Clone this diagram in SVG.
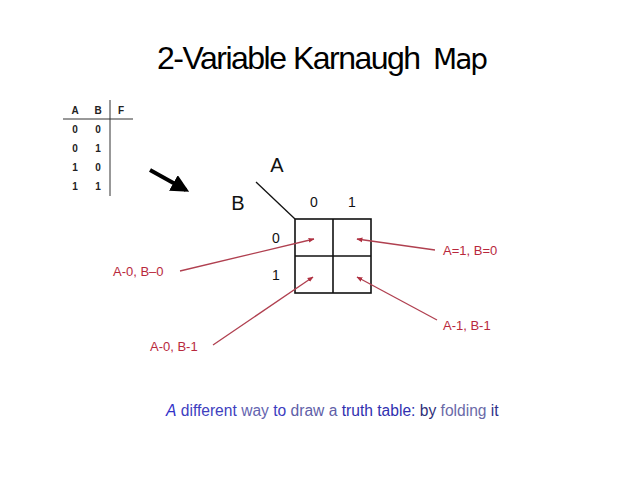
<svg xmlns="http://www.w3.org/2000/svg" width="638" height="478" viewBox="0 0 638 478">
<defs>
<style>
.t{font-family:"Liberation Sans",Arial,sans-serif;}
.tt{font-family:"Liberation Sans",Arial,sans-serif;font-size:10px;font-weight:bold;fill:#222;text-anchor:middle;}
.lbl{font-family:"Liberation Sans",Arial,sans-serif;font-size:13px;fill:#b8283c;}
.red{stroke:#b04050;stroke-width:1.3;fill:none;marker-end:url(#ra);}
.grid{stroke:#111;stroke-width:1.6;fill:none;}
.num{font-family:"Liberation Sans",Arial,sans-serif;font-size:14px;fill:#111;text-anchor:middle;}
</style>
<marker id="ra" viewBox="0 0 10 10" refX="9" refY="5" markerWidth="6" markerHeight="6" orient="auto" markerUnits="userSpaceOnUse">
<path d="M0,1 L10,5 L0,9 z" fill="#b03040"/>
</marker>
<marker id="ba" viewBox="0 0 10 10" refX="8" refY="5" markerWidth="4.5" markerHeight="4.5" orient="auto">
<path d="M0,0 L10,5 L0,10 z" fill="#000"/>
</marker>
</defs>
<rect width="638" height="478" fill="#fff"/>
<g id="title">
<text class="t" x="157" y="69" font-size="32" fill="#000" letter-spacing="-1.5">2-Variable Karnaugh</text>
<text x="433" y="69" font-family="'DejaVu Sans',sans-serif" font-size="28" fill="#000" letter-spacing="-2">Map</text>
</g>
<g id="truth-table">
<line x1="63" y1="119" x2="133" y2="119" stroke="#333" stroke-width="1"/>
<line x1="110" y1="100" x2="110" y2="196" stroke="#333" stroke-width="1"/>
<text class="tt" x="75" y="114" font-weight="normal">A</text>
<text class="tt" x="98" y="114" font-weight="normal">B</text>
<text class="tt" x="121" y="114" font-weight="normal">F</text>
<text class="tt" x="75" y="133">0</text><text class="tt" x="98" y="133">0</text>
<text class="tt" x="75" y="152">0</text><text class="tt" x="98" y="152">1</text>
<text class="tt" x="75" y="171">1</text><text class="tt" x="98" y="171">0</text>
<text class="tt" x="75" y="190">1</text><text class="tt" x="98" y="190">1</text>
</g>
<g id="kmap">
<line x1="256" y1="182" x2="295" y2="219" stroke="#111" stroke-width="1.3"/>
<text class="t" x="277" y="172" font-size="20" fill="#111" text-anchor="middle">A</text>
<text class="t" x="238" y="210" font-size="20" fill="#111" text-anchor="middle">B</text>
<rect class="grid" x="295" y="219" width="76" height="74"/>
<line class="grid" x1="333" y1="219" x2="333" y2="293"/>
<line class="grid" x1="295" y1="256" x2="371" y2="256"/>
<text class="num" x="314" y="207">0</text>
<text class="num" x="352" y="207">1</text>
<text class="num" x="276" y="243">0</text>
<text class="num" x="276" y="280">1</text>
</g>
<g id="labels">
<text class="lbl" x="443" y="255">A=1, B=0</text>
<text class="lbl" x="443" y="330">A-1, B-1</text>
<text class="lbl" x="113" y="276">A-0, B–0</text>
<text class="lbl" x="150" y="351">A-0, B-1</text>
</g>
<g id="connectors">
<line x1="150" y1="170" x2="186" y2="190" stroke="#000" stroke-width="4" marker-end="url(#ba)"/>
<line class="red" x1="180" y1="271" x2="314" y2="239"/>
<line class="red" x1="213" y1="345" x2="313" y2="277"/>
<line class="red" x1="435" y1="250" x2="357" y2="239"/>
<line class="red" x1="437" y1="320" x2="357" y2="277"/>
</g>
<g id="caption">
<text class="t" x="166" y="416" font-size="15.6"><tspan fill="#3030c8" font-style="italic">A</tspan><tspan fill="#4040c0"> different</tspan><tspan fill="#6464b0"> way </tspan><tspan fill="#3c3cc0">to</tspan><tspan fill="#6060a8"> draw a </tspan><tspan fill="#3030b0">truth table:</tspan><tspan fill="#30307a"> by </tspan><tspan fill="#6a6aa8">folding </tspan><tspan fill="#30308a">it</tspan></text>
</g>
</svg>
